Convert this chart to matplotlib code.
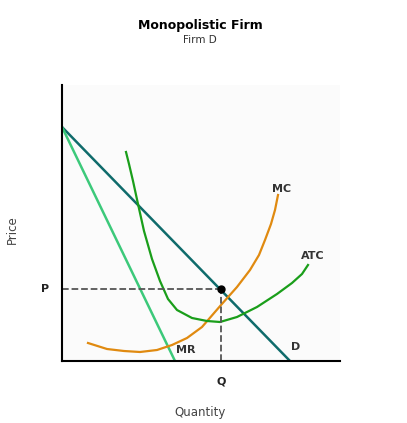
import matplotlib
matplotlib.use("Agg")
import matplotlib.pyplot as plt

d_x = [0, 228]; d_y = [234, 0]
mr_x = [0, 113]; mr_y = [234, 0]
mc_x = [26, 45, 62, 78, 95, 110, 125, 140, 159, 175, 188, 197, 203, 209, 213, 216]
mc_y = [18, 12, 10, 9, 11, 16, 23, 34, 56, 74, 91, 106, 121, 137, 151, 166]
atc_x = [64, 67, 71, 76, 82, 90, 98, 106, 115, 130, 145, 158, 175, 195, 215, 230, 240, 246]
atc_y = [209, 197, 180, 157, 130, 102, 80, 62, 51, 43, 40, 39, 44, 54, 67, 78, 87, 96]
eq_x, eq_y = 159, 72

fig = plt.figure(figsize=(4.07, 4.23), dpi=100)
ax = fig.add_axes([62/407, 62/423, 278/407, 276/423])
ax.set_facecolor('#fbfbfb')
ax.set_xlim(0, 278); ax.set_ylim(0, 276)
for s in ['top', 'right']:
    ax.spines[s].set_visible(False)
ax.spines['left'].set_linewidth(1.5); ax.spines['bottom'].set_linewidth(1.5)
ax.set_xticks([]); ax.set_yticks([])

ax.plot(d_x, d_y, color='#0f6b6b', lw=1.8)
ax.plot(mr_x, mr_y, color='#3cc97a', lw=1.8)
ax.plot(mc_x, mc_y, color='#e08a10', lw=1.6)
ax.plot(atc_x, atc_y, color='#1a9e1a', lw=1.6)
ax.plot([0, eq_x], [eq_y, eq_y], ls='--', color='#555555', lw=1.3)
ax.plot([eq_x, eq_x], [0, eq_y], ls='--', color='#555555', lw=1.3)
ax.plot(eq_x, eq_y, 'o', color='black', ms=5)

ax.text(220, 172, 'MC', fontsize=8, fontweight='bold', ha='center', va='center', color='#333333')
ax.text(251, 105, 'ATC', fontsize=8, fontweight='bold', ha='center', va='center', color='#333333')
ax.text(234, 14, 'D', fontsize=8, fontweight='bold', ha='center', va='center', color='#333333')
ax.text(124, 11, 'MR', fontsize=8, fontweight='bold', ha='center', va='center', color='#333333')
ax.text(-17, eq_y, 'P', fontsize=8, fontweight='bold', ha='center', va='center', color='#222222', clip_on=False)
ax.text(eq_x, -20, 'Q', fontsize=8, fontweight='bold', ha='center', va='center', color='#222222', clip_on=False)

fig.text(200/407, 1-25/423, 'Monopolistic Firm', fontsize=9, fontweight='bold', ha='center', va='center')
fig.text(200/407, 1-40/423, 'Firm D', fontsize=7.5, ha='center', va='center', color='#333333')
fig.text(12/407, 1-230/423, 'Price', fontsize=8.5, rotation=90, ha='center', va='center', color='#444444')
fig.text(200/407, 1-412/423, 'Quantity', fontsize=8.5, ha='center', va='center', color='#444444')
fig.savefig('out.png', dpi=100)
